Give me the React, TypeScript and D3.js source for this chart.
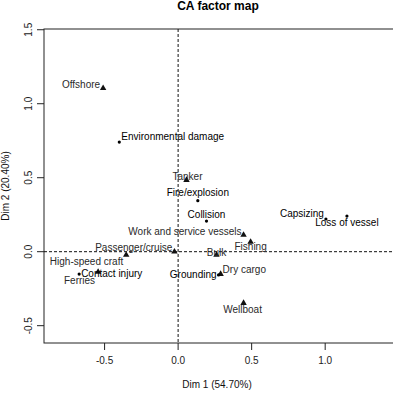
import React from "react";
import * as d3 from "d3";

// CA coordinates, accident types (rows, dots)
const accidentNames = [
  "Environmental damage",
  "Fire/explosion",
  "Collision",
  "Capsizing",
  "Loss of vessel",
  "Grounding",
  "Contact injury",
];
const accidentDim1 = [-0.4, 0.134, 0.193, 1.005, 1.148, 0.275, -0.673];
const accidentDim2 = [0.741, 0.345, 0.207, 0.221, 0.241, -0.157, -0.151];

// ship types (columns, triangles)
const shipNames = [
  "Offshore",
  "Tanker",
  "Work and service vessels",
  "Fishing",
  "Bulk",
  "Dry cargo",
  "Wellboat",
  "Passenger/cruise",
  "High-speed craft",
  "Ferries",
];
const shipDim1 = [-0.51, 0.057, 0.445, 0.493, 0.261, 0.289, 0.445, -0.025, -0.353, -0.544];
const shipDim2 = [1.105, 0.484, 0.113, 0.066, -0.022, -0.151, -0.347, 0.0, -0.022, -0.137];

const xTicks = [-0.5, 0.0, 0.5, 1.0];
const yTicks = [-0.5, 0.0, 0.5, 1.0, 1.5];

// label placement (anchor, dx, dy) like autoLab did it
const accidentLabelPos: [string, number, number][] = [
  ["start", 2, -2],
  ["middle", 0, -5],
  ["middle", 0, -3],
  ["end", -2, -2],
  ["middle", 0, 10],
  ["end", -2, 3],
  ["start", 2, 3],
];
const shipLabelPos: [string, number, number][] = [
  ["end", -3, 0],
  ["middle", 1, 0],
  ["end", -2, 0],
  ["middle", 0, 8],
  ["middle", 0, 1],
  ["start", 2, -1],
  ["middle", -1, 10],
  ["end", -2, -1],
  ["end", -3, 10],
  ["end", -3, 12],
];

const W = 393;
const H = 393;
const margin = { top: 29, right: -1, bottom: 50, left: 44 };
const font = "'Liberation Sans', Arial, sans-serif";

export default function App() {
  const x = d3
    .scaleLinear()
    .domain([-0.912, 1.468])
    .range([margin.left, W - margin.right]);
  const y = d3
    .scaleLinear()
    .domain([-0.617, 1.505])
    .range([H - margin.bottom, margin.top]);

  const tri = d3.symbol().type(d3.symbolTriangle).size(18);
  const fmt = (v: number) => v.toFixed(1);
  const bottom = H - margin.bottom;

  return (
    <svg
      width={W}
      height={H}
      style={{ position: "absolute", left: 0, top: 0, background: "#fff" }}
      fontFamily={font}
    >
      <rect width={W} height={H} fill="#fff" />
      {/* title */}
      <text x={218} y={10} textAnchor="middle" fontSize={12} fontWeight="bold">
        CA factor map
      </text>

      {/* box */}
      <rect
        x={margin.left}
        y={margin.top}
        width={W - margin.right - margin.left}
        height={bottom - margin.top}
        fill="none"
        stroke="#222"
        strokeWidth={1}
      />

      {/* zero lines */}
      <line x1={margin.left} x2={W} y1={y(0)} y2={y(0)} stroke="#111" strokeDasharray="3,2" />
      <line x1={x(0)} x2={x(0)} y1={margin.top} y2={bottom} stroke="#111" strokeDasharray="3,2" />

      {/* x axis */}
      {xTicks.map((t) => (
        <g key={"x" + t} transform={`translate(${x(t)},${bottom})`}>
          <line y2={7} stroke="#222" />
          <text y={21} textAnchor="middle" fontSize={10} fill="#222">
            {fmt(t)}
          </text>
        </g>
      ))}
      {/* y axis */}
      {yTicks.map((t) => (
        <g key={"y" + t} transform={`translate(${margin.left},${y(t)})`}>
          <line x2={-7} stroke="#222" />
          <text
            transform="translate(-12,0) rotate(-90)"
            textAnchor="middle"
            fontSize={10}
            fill="#222"
          >
            {fmt(t)}
          </text>
        </g>
      ))}

      <text x={217} y={388} textAnchor="middle" fontSize={10} fill="#111">
        Dim 1 (54.70%)
      </text>
      <text
        transform={`translate(9,${(margin.top + bottom) / 2}) rotate(-90)`}
        textAnchor="middle"
        fontSize={10}
        fill="#111"
      >
        Dim 2 (20.40%)
      </text>

      {/* ship types */}
      {shipNames.map((n, i) => {
        const px = x(shipDim1[i]);
        const py = y(shipDim2[i]);
        const [anchor, dx, dy] = shipLabelPos[i];
        return (
          <g key={n}>
            <path d={tri() || ""} transform={`translate(${px},${py})`} fill="#111" />
            <text
              x={px + dx}
              y={py + dy}
              textAnchor={anchor}
              fontSize={10}
              fill="#2a2a2a"
            >
              {n}
            </text>
          </g>
        );
      })}

      {/* accident types */}
      {accidentNames.map((n, i) => {
        const px = x(accidentDim1[i]);
        const py = y(accidentDim2[i]);
        const [anchor, dx, dy] = accidentLabelPos[i];
        return (
          <g key={n}>
            <circle cx={px} cy={py} r={1.6} fill="#000" />
            <text x={px + dx} y={py + dy} textAnchor={anchor} fontSize={10} fill="#000">
              {n}
            </text>
          </g>
        );
      })}
    </svg>
  );
}
